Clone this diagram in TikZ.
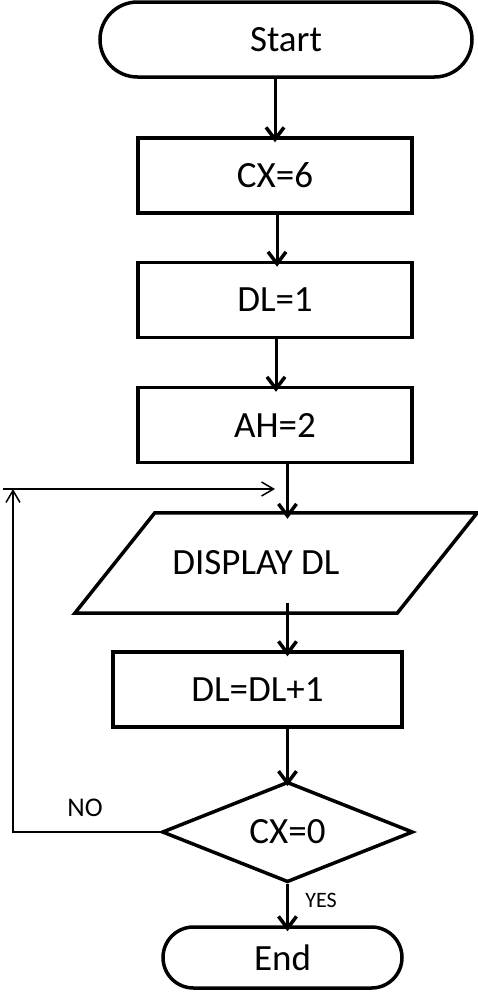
\documentclass[tikz,border=0pt]{standalone}
\usepackage{fontspec}
\setmainfont{Carlito}
\usetikzlibrary{arrows.meta, positioning, shapes.geometric, shapes.misc, calc}

\begin{document}
\begin{tikzpicture}[
  x=1pt, y=-1pt,
  font=\fontsize{37}{40}\selectfont,
  term/.style={draw, line width=3.5pt, rounded rectangle, inner sep=0pt},
  proc/.style={draw, line width=3.5pt, rectangle, inner sep=0pt, minimum width=274pt, minimum height=75pt},
  io/.style={rectangle, inner sep=0pt, minimum width=322pt, minimum height=100pt},
  dec/.style={draw, line width=3.5pt, diamond, inner sep=0pt, minimum width=251pt, minimum height=88pt},
  flow/.style={line width=3pt, -{Straight Barb[length=12pt, width=18pt, line width=3.5pt]}, shorten >=-6pt},
  back/.style={line width=1.5pt, -{Straight Barb[length=12pt, width=14pt, line width=1.5pt]}},
  lbl/.style={inner sep=0pt},
]
\useasboundingbox (0,0) rectangle (478,1004);

% Terminals and boxes
\node[term, minimum width=372pt, minimum height=75pt] (start) at (286,39.5) {Start};
\node[proc] (cx) at (275,175.5) {CX=6};
\node[proc] (dl) at (275,300) {DL=1};
\node[proc] (ah) at (275,425) {AH=2};
\node[io] (disp) at (276,563) {};
\draw[line width=3.5pt] ([xshift=-40pt]disp.south west) -- ([xshift=-40pt]disp.south east)
  -- ([xshift=40pt]disp.north east) -- ([xshift=40pt]disp.north west) -- cycle;
\node[lbl] (disptext) at ([xshift=-20pt]disp.center) {DISPLAY DL};
\node[proc, minimum width=289pt] (inc) at (257.5,689.5) {DL=DL+1};
\node[dec] (test) at (287.5,832) {CX=0};
\node[term, minimum width=239pt, minimum height=61pt] (stop) at (282.5,957.5) {End};

% Main flow
\draw[flow] (start.south -| cx.north) -- (cx.north);
\draw[flow] ([xshift=2pt]cx.south) -- ([xshift=2pt]dl.north);
\draw[flow] ([xshift=1pt]dl.south) -- ([xshift=1pt]ah.north);
\draw[flow] (ah.south -| test.north) -- (disp.north -| test.north);
\draw[flow, shorten <=-10pt] (disp.south -| test.north) -- (inc.north -| test.north);
\draw[flow] (inc.south -| test.north) -- (test.north);
\draw[flow] (test.south) -- (stop.north -| test.south);

% Loop back
\coordinate (corner) at (13,489);
\coordinate (entry) at (3,489);
\coordinate (join) at (275,489);
\draw[back] (test.west) -| (corner);
\draw[back] (entry) -- (join);

% Branch labels
\node[lbl, font=\fontsize{27}{30}\selectfont] (no) at (85,808) {NO};
\node[lbl, font=\fontsize{22}{24}\selectfont] (yes) at (321,900) {YES};
\end{tikzpicture}
\end{document}
